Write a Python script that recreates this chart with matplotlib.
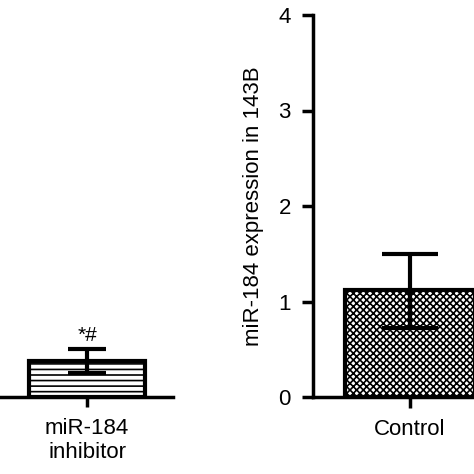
import matplotlib
matplotlib.use('Agg')
import matplotlib.pyplot as plt

# Valores
grupos = ['miR-184\ninhibitor', 'Control']
medias = [0.38, 1.12]
err_sup = [0.12, 0.38]
err_inf = [0.13, 0.40]
marcas = ['*#', '']

plt.rcParams['font.family'] = 'Liberation Sans'
plt.rcParams['hatch.linewidth'] = 1.2
fig = plt.figure(figsize=(4.74, 4.74), dpi=100)
y0 = 1 - 397 / 474
alto = (397 - 15) / 474

# Panel izquierdo (recortado)
ax1 = fig.add_axes([0, y0, 173 / 474, alto])
ax1.bar(0, medias[0], width=0.8, color='white', edgecolor='black', linewidth=3, hatch='---')
ax1.errorbar(0, medias[0], yerr=[[err_inf[0]], [err_sup[0]]], color='black',
             elinewidth=3, capsize=14, capthick=3)
ax1.text(0, medias[0] + err_sup[0] + 0.04, marcas[0], ha='center', va='bottom', fontsize=15)
ax1.set_xlim(-0.6, 0.593)
ax1.set_ylim(0, 4)
for s in ['left', 'top', 'right']:
    ax1.spines[s].set_visible(False)
ax1.spines['bottom'].set_linewidth(2.5)
ax1.set_yticks([])
ax1.set_xticks([0])
ax1.set_xticklabels([grupos[0]], fontsize=16)
ax1.tick_params(axis='x', width=2.5, length=7, pad=8)

# Panel derecho
ax2 = fig.add_axes([313 / 474, y0, 1 - 313 / 474, alto])
ax2.bar(0, medias[1], width=0.8, color='white', edgecolor='black', linewidth=3, hatch='xxxxx')
ax2.errorbar(0, medias[1], yerr=[[err_inf[1]], [err_sup[1]]], color='black',
             elinewidth=3, capsize=20, capthick=3)
ax2.set_xlim(-0.6, 0.396)
ax2.set_ylim(0, 4)
ax2.spines['top'].set_visible(False)
ax2.spines['right'].set_visible(False)
ax2.spines['left'].set_linewidth(2.5)
ax2.spines['bottom'].set_linewidth(2.5)
ax2.set_yticks([0, 1, 2, 3, 4])
ax2.tick_params(axis='both', width=2.5, length=8, labelsize=16, pad=8)
ax2.set_xticks([0])
ax2.set_xticklabels([grupos[1]])
ax2.set_ylabel('miR-184 expression in 143B', fontsize=16, labelpad=10)

fig.savefig('out.png', dpi=100)
